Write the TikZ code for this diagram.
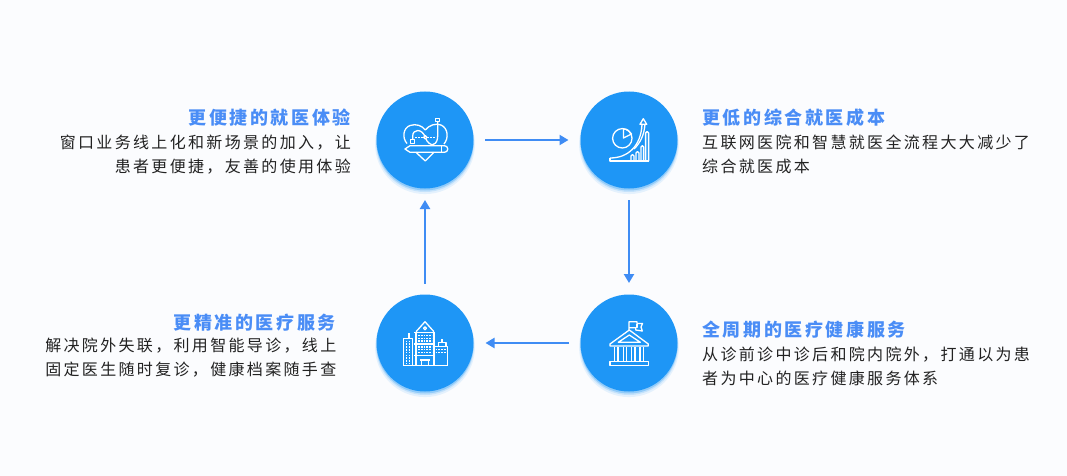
\documentclass[tikz,border=0pt]{standalone}
\usepackage{fontspec}
\setmainfont[LetterSpace=14.6]{Noto Sans CJK SC}
\usetikzlibrary{arrows.meta,shadows}

\definecolor{pagebg}{HTML}{FBFCFE}
\definecolor{hubblue}{HTML}{1E96F6}
\definecolor{flowblue}{HTML}{3F8CF4}
\definecolor{headblue}{HTML}{4A8DF6}
\definecolor{bodygray}{HTML}{222222}

\tikzset{
  hub/.style={circle, fill=hubblue, inner sep=0, outer sep=0, minimum size=97pt,
    general shadow={fill=hubblue, opacity=.10, shadow yshift=-4pt, shadow scale=1.03},
    general shadow={fill=hubblue, opacity=.16, shadow yshift=-3pt, shadow scale=1.01},
    general shadow={fill=hubblue, opacity=.30, shadow yshift=-2pt, shadow scale=1.0}},
  flow/.style={draw=flowblue, line width=2.2pt, -{Triangle[length=9pt,width=10pt]}},
  heading/.style={text=headblue, inner sep=0, font=\fontsize{18}{24}\selectfont\bfseries},
  body/.style={text=bodygray, inner sep=0, font=\fontsize{16}{24}\selectfont},
  glyph/.style={draw=white, line width=1.3pt, line join=round},
  panes/.style={draw=white, line width=1.6pt, dash pattern=on 1.7pt off 1.1pt}
}

\begin{document}
\begin{tikzpicture}[x=1pt,y=-1pt]
\fill[pagebg] (0,0) rectangle (1067,476);
\useasboundingbox (0,0) rectangle (1067,476);

\draw (425,140) node (easy) [hub] {};
\draw (629,140) node (cost) [hub] {};
\draw (629,343) node (cycle) [hub] {};
\draw (425,343) node (exact) [hub] {};

\draw[flow, shorten <=11.5pt, shorten >=12pt] (easy) -- (cost);
\draw[flow, shorten <=11.5pt, shorten >=11.5pt] (cost) -- (cycle);
\draw[flow, shorten <=11.5pt, shorten >=12pt] (cycle) -- (exact);
\draw[flow, shorten <=11pt, shorten >=11.5pt] (exact) -- (easy);

\draw (351,118) node (easyhead) [heading, anchor=east] {更便捷的就医体验};
\draw (351,154.5) node (easytext) [body, anchor=east, align=right] {窗口业务线上化和新场景的加入，让\\患者更便捷，友善的使用体验};
\draw (702,118) node (costhead) [heading, anchor=west] {更低的综合就医成本};
\draw (702,154.5) node (costtext) [body, anchor=west, align=left] {互联网医院和智慧就医全流程大大减少了\\综合就医成本};
\draw (702,329.5) node (cyclehead) [heading, anchor=west] {全周期的医疗健康服务};
\draw (702,366) node (cycletext) [body, anchor=west, align=left] {从诊前诊中诊后和院内院外，打通以为患\\者为中心的医疗健康服务体系};
\draw (336,322.5) node (exacthead) [heading, anchor=east] {更精准的医疗服务};
\draw (336.5,358) node (exacttext) [body, anchor=east, align=right] {解决院外失联，利用智能导诊，线上\\固定医生随时复诊，健康档案随手查};

\draw[glyph] (407,143.5) .. controls (402,138) and (403,128) .. (410,125.5) .. controls (416,123.5) and (422,125.5) .. (425.3,130)
  .. controls (429,125) and (436,123) .. (441,125) .. controls (448,128) and (449,138) .. (444,144);
\draw[glyph] (416,152.3) -- (425.3,161) -- (434,152.3);
\draw[glyph] (410,145.7) -- (444.5,145.7) arc (-90:90:3.3) -- (410,152.3) -- (405,149) -- cycle;
\draw[glyph] (441.5,145.7) -- (441.5,152.3);
\draw[glyph] (412.7,140) -- (412.7,136) .. controls (412.7,129) and (422,128) .. (425.3,137.3)
  .. controls (427,143) and (431,145) .. (433,144.5) .. controls (437,143.5) and (437.7,139) .. (437.7,135) -- (437.7,122);
\draw[glyph, line width=.9pt, dash pattern=on 1.5pt off 1.5pt] (415,137.3) -- (436,137.3);
\draw[glyph, fill=hubblue] (425.3,137.3) circle (1.6);
\draw[glyph, fill=hubblue, line width=.9pt] (410.9,139.9) rectangle (414.5,143.5);
\draw[glyph, fill=hubblue, line width=.9pt] (435.9,118) rectangle (439.5,121.6);

\draw[glyph] (622.3,138.3) circle (9.7);
\draw[glyph] (623.5,129) -- (623.5,138) -- (631.5,134) .. controls (630,131) and (627,129) .. (623.5,129);
\draw[glyph] (610,158) .. controls (628,158) and (641,146) .. (642,124.3);
\draw[glyph] (645,124.3) .. controls (644,136) and (640,143) .. (634,149);
\draw[glyph] (640,124.3) -- (643.3,118.7) -- (646.7,124.3) -- cycle;
\draw[glyph] (610,158) -- (610,161) -- (648.5,161);
\draw[glyph] (631,161) -- (631,156) arc (180:360:1.5) -- (634,161);
\draw[glyph] (636,161) -- (636,153) arc (180:360:1.5) -- (639,161);
\draw[glyph] (641,161) -- (641,147) arc (180:360:1.3) -- (643.6,161);
\draw[glyph] (645.6,161) -- (645.6,133) arc (180:360:1.5) -- (648.6,161);

\draw[glyph] (403.3,365.7) -- (448,365.7);
\draw[glyph] (403.3,365.7) -- (403.3,338.3) -- (412.7,338.3) -- (412.7,365.7);
\draw[glyph] (409,338.3) -- (409,332.5);
\draw[glyph] (416,331.7) -- (425,321.7) -- (434,331.7);
\draw[glyph] (414.3,332.7) -- (435.3,332.7);
\draw[glyph] (414.3,344) -- (435.3,344);
\draw[glyph] (414.3,355.3) -- (435.3,355.3);
\draw[glyph] (416,332.7) -- (416,365.7);
\draw[glyph] (434,332.7) -- (434,365.7);
\draw[glyph] (425,328.3) circle (1.5);
\draw[glyph] (420,360) -- (430,360);
\draw[glyph] (421.5,360) -- (421.5,365.7);
\draw[glyph] (428.5,360) -- (428.5,365.7);
\draw[glyph] (434,346.5) -- (447.7,346.5) -- (447.7,365.7);
\draw[glyph] (438.3,346.5) -- (438.3,342.3) -- (446,342.3) -- (446,346.5);
\draw[glyph] (442,342.3) -- (442,339.3);
\draw[panes] (406.3,340.5) -- (406.3,363.5);
\draw[panes] (409.6,340.5) -- (409.6,363.5);
\draw[panes] (418,335.5) -- (432,335.5);
\draw[panes] (418,338.3) -- (432,338.3);
\draw[panes] (418,341) -- (432,341);
\draw[panes] (418,346.8) -- (432,346.8);
\draw[panes] (418,349.6) -- (432,349.6);
\draw[panes] (418,352.4) -- (432,352.4);
\draw[panes] (435.5,349.5) -- (446.5,349.5);
\draw[panes] (435.5,352.5) -- (446.5,352.5);

\draw[glyph] (629,330) -- (629,321.7) -- (637,321.7) -- (637,323.5) -- (642.5,323.5) -- (641,327) -- (642.3,331) -- (635.7,330) -- (635.7,327.7) -- (629,327.7);
\draw[glyph] (637,323.5) -- (637,327.7) -- (635.7,327.7);
\draw[glyph] (610,344) -- (629.3,330) -- (648.3,344) -- (648.3,346) -- (610,346) -- cycle;
\draw[glyph] (629.3,335) -- (618.3,342.3) -- (640.3,342.3) -- cycle;
\draw[glyph] (610,361.7) rectangle (648.3,365.7);
\draw[glyph] (614.7,346.5) -- (614.7,361.5);
\draw[glyph] (618,346.5) -- (618,361.5);
\draw[glyph] (623.3,346.5) -- (623.3,361.5);
\draw[glyph] (626.7,346.5) -- (626.7,361.5);
\draw[glyph] (631.7,346.5) -- (631.7,361.5);
\draw[glyph] (635,346.5) -- (635,361.5);
\draw[glyph] (640,346.5) -- (640,361.5);
\draw[glyph] (643.3,346.5) -- (643.3,361.5);
\end{tikzpicture}
\end{document}
